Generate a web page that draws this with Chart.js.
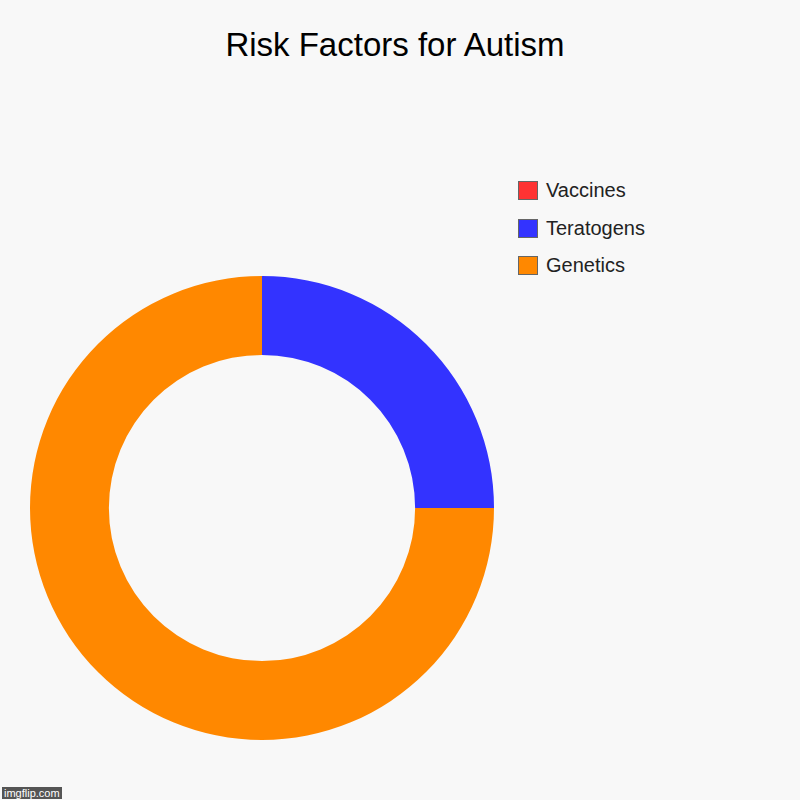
<!DOCTYPE html>
<html>
<head>
<meta charset="utf-8">
<script src="https://cdn.jsdelivr.net/npm/chart.js@4/dist/chart.umd.min.js"></script>
<style>
  body { margin: 0; background: #f8f8f8; font-family: "Liberation Sans", Arial, sans-serif; }
  #page { position: relative; width: 800px; height: 800px; background: #f8f8f8; overflow: hidden; }
  #title { position: absolute; top: 26px; left: 0; width: 790px; text-align: center; font-size: 33px; color: #000; }
  #wrap { position: absolute; left: 28px; top: 274px; width: 468px; height: 468px; }
  #legend { position: absolute; left: 518px; top: 179px; }
  .item { height: 37.5px; display: flex; align-items: flex-start; font-size: 20px; color: #222; }
  .box { width: 20px; height: 19px; border: 1.5px solid #666; margin-right: 8px; margin-top: 2px; box-sizing: border-box; }
  #mark { position: absolute; left: 2px; bottom: 1px; font-size: 11px; color: #fff; background: #555; padding: 0 2px; }
</style>
</head>
<body>
<div id="page">
  <div id="title">Risk Factors for Autism</div>
  <div id="legend"></div>
  <div id="wrap"><canvas id="donut"></canvas></div>
  <div id="mark">imgflip.com</div>
</div>
<script>
  // datos
  const categories = ['Vaccines', 'Teratogens', 'Genetics']
  const values = [0, 25, 75]
  const colors = ['#ff3333', '#3333ff', '#ff8800']

  // leyenda en html
  const legend = document.getElementById('legend')
  for (let i = 0; i < categories.length; i++) {
    const item = document.createElement('div')
    item.className = 'item'
    item.innerHTML = '<div class="box" style="background:' + colors[i] + '"></div>' + categories[i]
    legend.appendChild(item)
  }

  new Chart(document.getElementById('donut'), {
    type: 'doughnut',
    data: {
      labels: categories,
      datasets: [{ data: values, backgroundColor: colors, borderWidth: 0 }]
    },
    options: {
      responsive: true,
      maintainAspectRatio: false,
      animation: false,
      cutout: '66%',
      layout: { padding: 2 },
      plugins: { legend: { display: false }, tooltip: { enabled: false } }
    }
  })
</script>
</body>
</html>
